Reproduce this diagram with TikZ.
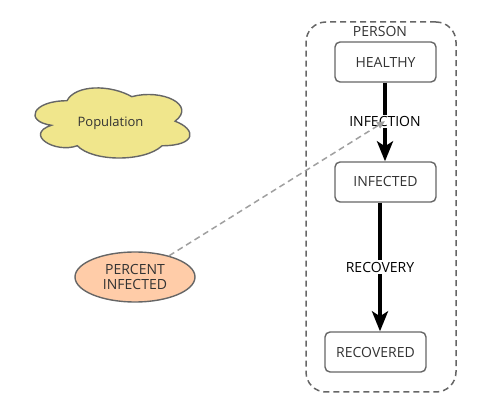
\documentclass[tikz,border=0pt]{standalone}
\usepackage{fontspec}
\setmainfont{Open Sans}
\usetikzlibrary{shapes.symbols,shapes.geometric,arrows.meta}
\definecolor{edgegray}{HTML}{666666}
\definecolor{txt}{HTML}{333333}
\definecolor{cloudfill}{HTML}{F0E68C}
\definecolor{peach}{HTML}{FFCCA8}
\definecolor{linkgray}{HTML}{A0A0A0}
\tikzset{
  statebox/.style={draw=edgegray, line width=1.4pt, rounded corners=5pt, fill=white,
    minimum width=101pt, minimum height=40pt, inner sep=0pt, font=\fontsize{14}{16}\selectfont, text=txt},
  flow/.style={line width=3.6pt, -{Stealth[length=20pt,width=16pt,inset=5pt]}},
  flowlabel/.style={fill=white, inner sep=1.5pt, font=\fontsize{14}{16}\selectfont, text=black},
  container/.style={draw=edgegray, dashed, dash pattern=on 6pt off 4pt, line width=1.5pt, rounded corners=20pt},
  link/.style={draw=linkgray, line width=1.5pt, dash pattern=on 6pt off 4pt, -{Triangle[length=8pt,width=7pt]}},
  cloudshape/.style={draw=edgegray, line width=1.4pt, fill=cloudfill}
}
\begin{document}
\begin{tikzpicture}[x=1pt,y=1pt]
\useasboundingbox (0,0) rectangle (480,-414);
\node[container, minimum width=150pt, minimum height=370pt] (person) at (381,-207) {};
\node[font=\fontsize{14}{16}\selectfont, text=txt, inner sep=0pt] (plabel) at (380,-31) {PERSON};
\node[statebox] (healthy) at (385.5,-62) {HEALTHY};
\node[statebox] (infected) at (385.5,-182) {INFECTED};
\node[statebox] (recovered) at (375.5,-352) {RECOVERED};
\draw[flow] (healthy.south -| 385,0) -- (infected.north -| 385,0) node[flowlabel, pos=0.49] (infl) {INFECTION};
\draw[flow] (infected.south -| 380,0) -- (recovered.north -| 380,0) node[flowlabel, pos=0.5] (recl) {RECOVERY};
\begin{scope}[shift={(23.7,-80.3)}, x=173pt, y=-81.8pt]
\path[cloudshape] (0.25,0.25)
  .. controls (0.05,0.25) and (0,0.5) .. (0.16,0.55)
  .. controls (0,0.66) and (0.18,0.9) .. (0.31,0.8)
  .. controls (0.4,1) and (0.7,1) .. (0.8,0.8)
  .. controls (1,0.8) and (1,0.6) .. (0.875,0.5)
  .. controls (1,0.3) and (0.8,0.1) .. (0.625,0.2)
  .. controls (0.5,0.05) and (0.3,0.05) .. (0.25,0.25) -- cycle;
\end{scope}
\node[font=\fontsize{13}{15}\selectfont, text=txt, inner sep=0pt] (pop) at (110.5,-123) {Population};
\node[ellipse, draw=edgegray, line width=1.4pt, fill=peach, minimum width=120pt, minimum height=50pt, inner sep=0pt,
  align=center, font=\fontsize{14}{15}\selectfont, text=txt] (pct) at (135,-277) {PERCENT\\INFECTED};
\draw[link] (pct) -- (infl.center);
\end{tikzpicture}
\end{document}
